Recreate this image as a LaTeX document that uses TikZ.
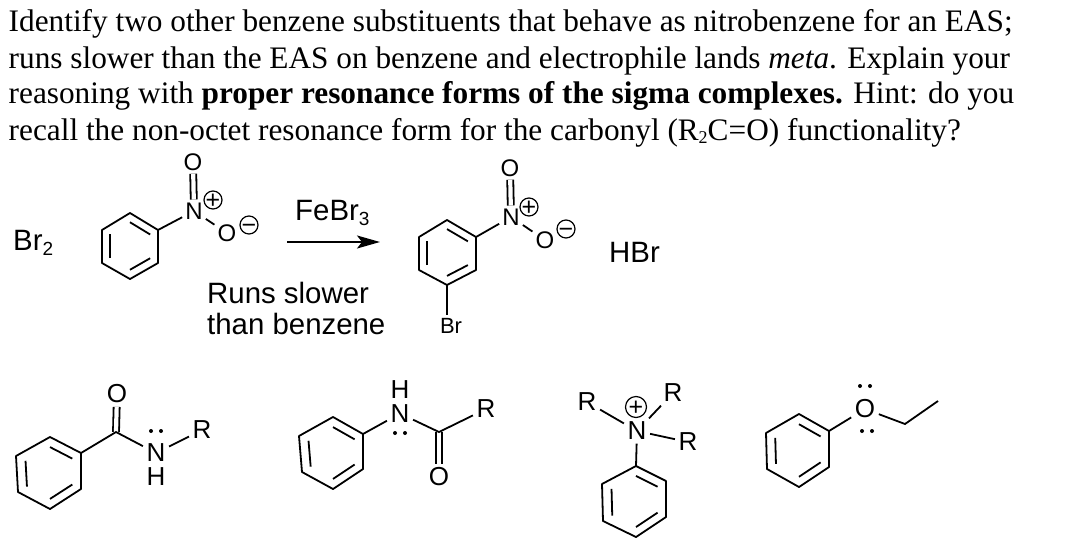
\documentclass[tikz,border=0pt]{standalone}
\usepackage{fontspec}
\setmainfont{Liberation Serif}
\setsansfont{Liberation Sans}
\usetikzlibrary{arrows.meta,calc}
% ring: name, then its six corners clockwise from the top
\newcommand{\phring}[2]{
   \foreach \px/\py [count=\i] in {#2}{
      \coordinate (#1\i) at (\px,\py);
   }
   \coordinate (#1c) at ($(#11)!0.5!(#14)$);
   \draw[bond,line join=round] (#11)--(#12)--(#13)--(#14)--(#15)--(#16)--cycle;
   \draw[bond] ($(#11)!0.28!(#1c)$)--($(#12)!0.28!(#1c)$);
   \draw[bond] ($(#13)!0.28!(#1c)$)--($(#14)!0.28!(#1c)$);
   \draw[bond] ($(#15)!0.28!(#1c)$)--($(#16)!0.28!(#1c)$);
}
\newcommand{\subnum}[1]{\raisebox{-5pt}{\fontsize{19}{19}\selectfont #1}}
\tikzset{
   bond/.style={line width=1.8pt},
   dblbond/.style={line width=1.8pt,double,double distance=4.2pt},
   atom/.style={inner sep=3pt,font=\sffamily\fontsize{24}{24}\selectfont},
   batom/.style={inner sep=3.5pt,font=\sffamily\fontsize{26}{26}\selectfont},
   caption/.style={anchor=base west,inner sep=0pt,font=\sffamily\fontsize{29.4}{29}\selectfont},
   textline/.style={anchor=base west,inner sep=0pt,font=\rmfamily\fontsize{31.3}{32}\selectfont},
   charge/.style={circle,draw,line width=1.2pt,inner sep=-4pt,minimum size=18pt,text height=17.5pt,text depth=0pt,font=\sffamily\fontsize{25}{25}\selectfont},
   pair/.style={circle,fill,inner sep=0pt,minimum size=4pt},
}
\begin{document}
\begin{tikzpicture}[x=1pt,y=-1pt]
   \useasboundingbox (0,0) rectangle (1070,552);
   \node[textline] (l1) at (8.5,31) {Identify two other benzene substituents that behave as nitrobenzene for an EAS;};
   \node[textline] (l2) at (8.5,68) {runs slower than the EAS on benzene and electrophile lands \textit{meta}. Explain your};
   \node[textline] (l3) at (8.5,103.5) {reasoning with \textbf{proper resonance forms of the sigma complexes.} Hint: do you};
   \node[textline] (l4) at (8.5,140.5) {recall the non-octet resonance form for the carbonyl (R\raisebox{-3pt}{\fontsize{18}{18}\selectfont 2}C=O) functionality?};
   % reaction
   \node[caption] (br2) at (13,250) {Br\subnum{2}};
   \phring{a}{130/213,158/230,158/263,130/279,102/263,102/230}
   \node[atom] (aN) at (194,211) {N};
   \node[atom] (aO) at (193,162) {O};
   \node[atom] (aOm) at (227,233) {O};
   \node[charge] (aplus) at (213,200) {+};
   \node[charge] (aminus) at (249,225) {−};
   \draw[bond] (a2) -- (aN);
   \draw[dblbond] (aN) -- (aO);
   \draw[bond] (aN) -- (aOm);
   \coordinate (arrowa) at (287,242);
   \coordinate (arrowb) at (380,242);
   \draw[bond,-{Stealth[length=23pt,width=13pt,inset=5pt]}] (arrowa) -- (arrowb);
   \node[caption] (fe) at (295,220) {FeBr\subnum{3}};
   \node[caption] (runs) at (207,303) {Runs slower};
   \node[caption] (than) at (207,334) {than benzene};
   \phring{b}{447/220,476/237,476/270,447/285,419/270,419/237}
   \node[atom] (bN) at (511,217) {N};
   \node[atom] (bO) at (510,168) {O};
   \node[atom] (bOm) at (545,240) {O};
   \node[charge] (bplus) at (529,207) {+};
   \node[charge] (bminus) at (566,229) {−};
   \node[atom,font=\sffamily\fontsize{22}{22}\selectfont] (bBr) at (451,326) {Br};
   \draw[bond] (b2) -- (bN);
   \draw[dblbond] (bN) -- (bO);
   \draw[bond] (bN) -- (bOm);
   \draw[bond] (b4) -- (b4|-bBr.north);
   \node[caption] (hbr) at (609,262) {HBr};
   % benzamide
   \phring{c}{50/437,81/453,81/489,50/509,18/492,16/456}
   \coordinate (cC) at (116,432);
   \node[batom] (cO) at (117,394) {O};
   \node[batom] (cN) at (156,453) {N};
   \node[batom,inner sep=0pt] (cH) at (156,477) {H};
   \node[batom] (cR) at (202,430) {R};
   \node[pair] (cp1) at (151,431) {};
   \node[pair] (cp2) at (161,431) {};
   \draw[dblbond] (cC) -- (cO);
   \draw[bond] (c2) -- (cC) -- (cN);
   \draw[bond] (cN) -- (cR);
   % anilide
   \phring{d}{333/417,363/434,363/469,333/489,302/472,299/436}
   \coordinate (dC) at (439,432);
   \node[batom] (dN) at (400,413.5) {N};
   \node[batom,inner sep=0pt] (dH) at (400,389.5) {H};
   \node[batom] (dR) at (486,409) {R};
   \node[batom] (dO) at (439,477) {O};
   \node[pair] (dp1) at (395,433) {};
   \node[pair] (dp2) at (405,433) {};
   \draw[dblbond] (dC) -- (dO);
   \draw[bond] (d2) -- (dN);
   \draw[bond] (dN) -- (dC) -- (dR);
   % ammonium
   \phring{e}{636/466,666/481,666/517,636/537,603/521,602/484}
   \node[batom] (eN) at (637,431) {N};
   \node[charge,minimum size=21pt] (eplus) at (636,407) {+};
   \node[batom] (eRa) at (587,402) {R};
   \node[batom] (eRb) at (673,393) {R};
   \node[batom] (eRc) at (688,442) {R};
   \draw[bond] (e1) -- (eN);
   \draw[bond] (eN) -- (eRa);
   \draw[bond] (eN) -- (eRb);
   \draw[bond] (eN) -- (eRc);
   % ether
   \phring{f}{799/414,829/431,829/467,799/487,767/469,766/433}
   \node[batom] (fO) at (865,409) {O};
   \coordinate (fC) at (905,424);
   \coordinate (fD) at (938,401);
   \node[pair] (fp1) at (860,386) {};
   \node[pair] (fp2) at (870,386) {};
   \node[pair] (fp3) at (862,431) {};
   \node[pair] (fp4) at (872,431) {};
   \draw[bond] (f2) -- (fO);
   \draw[bond] (fO) -- (fC) -- (fD);
\end{tikzpicture}
\end{document}
